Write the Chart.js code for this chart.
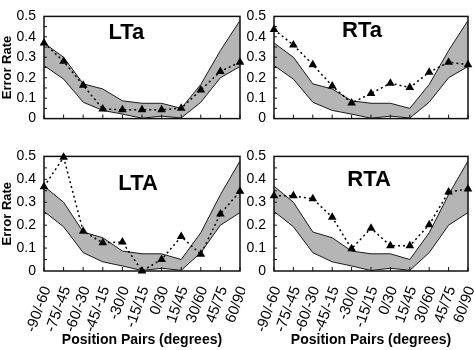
<!DOCTYPE html>
<html lang="en">
<head>
    <meta charset="UTF-8">
    <title>Error Rate by Position Pairs</title>
    <style>
        body {
            margin: 0;
            background-color: white;
        }
        #wrap {
            position: relative;
            width: 474px;
            height: 350px;
        }
        canvas {
            position: absolute;
        }
    </style>
    <script src="https://cdn.jsdelivr.net/npm/chart.js"></script>
</head>
<body>
    <div id="wrap">
        <canvas id="ltaLower" width="245" height="135" style="left:0;top:0"></canvas>
        <canvas id="rtaLower" width="229" height="135" style="left:245px;top:0"></canvas>
        <canvas id="ltaUpper" width="245" height="210" style="left:0;top:140px"></canvas>
        <canvas id="rtaUpper" width="229" height="210" style="left:245px;top:140px"></canvas>
    </div>

    <script>
        const positionPairs = ['-90/-60', '-75/-45', '-60/-30', '-45/-15', '-30/0', '-15/15', '0/30', '15/45', '30/60', '45/75', '60/90'];
        const yTicks = [0, 0.1, 0.2, 0.3, 0.4, 0.5];

        // shaded normal range (same in every panel)
        const bandUpper = [0.37, 0.30, 0.17, 0.145, 0.087, 0.075, 0.075, 0.05, 0.167, 0.333, 0.48];
        const bandLower = [0.26, 0.193, 0.08, 0.04, 0.022, 0.002, 0.012, 0.003, 0.08, 0.2, 0.255];

        const errLTa = [0.37, 0.28, 0.163, 0.047, 0.043, 0.043, 0.043, 0.051, 0.14, 0.231, 0.276];
        const errRTa = [0.436, 0.36, 0.264, 0.16, 0.076, 0.123, 0.173, 0.152, 0.227, 0.276, 0.264];
        const errLTA = [0.368, 0.496, 0.173, 0.123, 0.126, 0.0, 0.05, 0.15, 0.073, 0.249, 0.348];
        const errRTA = [0.328, 0.328, 0.315, 0.235, 0.097, 0.187, 0.11, 0.11, 0.202, 0.345, 0.358];

        const FONT = "'Liberation Sans', Arial, Helvetica, sans-serif";

        // box around the plot, inward tick marks, rotated category labels
        const framePlugin = {
            id: 'frame',
            beforeDatasetsDraw(chart, args, opts) {
                const a = chart.chartArea;
                const ctx = chart.ctx;
                const xs = chart.scales.x;
                const ys = chart.scales.y;
                ctx.save();
                ctx.strokeStyle = '#111';
                ctx.lineWidth = 1.5;
                ctx.strokeRect(a.left, a.top, a.right - a.left, a.bottom - a.top);
                ctx.lineWidth = 1;
                ctx.beginPath();
                positionPairs.forEach((p, i) => {
                    const px = xs.getPixelForValue(i);
                    ctx.moveTo(px, a.bottom);
                    ctx.lineTo(px, a.bottom - 4);
                });
                for (let k = 1; k < 10; k++) {
                    const py = ys.getPixelForValue(k * 0.05);
                    ctx.moveTo(a.left, py);
                    ctx.lineTo(a.left + 3, py);
                }
                ctx.stroke();

                if (opts.labels) {
                    ctx.fillStyle = '#000';
                    ctx.font = '15px ' + FONT;
                    ctx.textAlign = 'right';
                    ctx.textBaseline = 'middle';
                    positionPairs.forEach((p, i) => {
                        ctx.save();
                        ctx.translate(xs.getPixelForValue(i) + 3, a.bottom + 16);
                        ctx.rotate(-70 * Math.PI / 180);
                        ctx.fillText(p, 0, 0);
                        ctx.restore();
                    });
                }
                ctx.restore();
            }
        };

        const panelTitlePlugin = {
            id: 'panelTitle',
            afterDraw(chart, args, opts) {
                const a = chart.chartArea;
                const ctx = chart.ctx;
                ctx.save();
                ctx.font = 'bold 22px ' + FONT;
                ctx.fillStyle = '#000';
                ctx.textAlign = 'center';
                ctx.textBaseline = 'middle';
                ctx.fillText(opts.text, a.left + opts.xFrac * (a.right - a.left), a.top + opts.dy);
                ctx.restore();
            }
        };

        function createChart(id, title, errors, opts) {
            const ctx = document.getElementById(id).getContext('2d');
            new Chart(ctx, {
                type: 'line',
                data: {
                    labels: positionPairs,
                    datasets: [{
                        data: errors,
                        borderColor: '#000',
                        borderWidth: 1.5,
                        borderDash: [2, 3],
                        pointStyle: 'triangle',
                        pointRadius: 5,
                        pointBackgroundColor: '#000',
                        pointBorderColor: '#000',
                        pointBorderWidth: 0,
                        fill: false,
                        tension: 0,
                        clip: false
                    }, {
                        data: bandUpper,
                        borderColor: '#1a1a1a',
                        borderWidth: 1,
                        backgroundColor: '#b5b5b5',
                        pointRadius: 0,
                        fill: '+1',
                        tension: 0
                    }, {
                        data: bandLower,
                        borderColor: '#1a1a1a',
                        borderWidth: 1,
                        pointRadius: 0,
                        fill: false,
                        tension: 0
                    }]
                },
                options: {
                    responsive: false,
                    animation: false,
                    devicePixelRatio: 1,
                    layout: {
                        padding: { top: 5, right: opts.padRight, bottom: 0, left: 0 }
                    },
                    plugins: {
                        legend: { display: false },
                        tooltip: { enabled: false },
                        filler: { drawTime: 'beforeDatasetsDraw' },
                        frame: { labels: opts.showX },
                        panelTitle: { text: title, xFrac: opts.titleX, dy: opts.titleY }
                    },
                    scales: {
                        x: {
                            type: 'category',
                            offset: false,
                            border: { display: false },
                            grid: { display: false, drawTicks: false },
                            ticks: { display: false },
                            title: {
                                display: opts.showX,
                                text: 'Position Pairs (degrees)',
                                color: '#000',
                                font: { family: FONT, size: 14, weight: 'bold' },
                                padding: { top: 0, bottom: 1 }
                            },
                            afterFit: (scale) => { scale.height = opts.xHeight; }
                        },
                        y: {
                            min: 0,
                            max: 0.5,
                            border: { display: false },
                            grid: { display: false, drawTicks: false },
                            afterBuildTicks: (scale) => {
                                scale.ticks = yTicks.map(v => ({ value: v }));
                            },
                            ticks: {
                                padding: 8,
                                color: '#000',
                                font: { family: FONT, size: 14 },
                                callback: (v) => v === 0 ? '0' : v.toFixed(1)
                            },
                            title: {
                                display: opts.showYTitle,
                                text: 'Error Rate',
                                color: '#000',
                                font: { family: FONT, size: 13, weight: 'bold' },
                                padding: 0
                            },
                            afterFit: (scale) => { scale.width = opts.yWidth; }
                        }
                    }
                },
                plugins: [framePlugin, panelTitlePlugin]
            });
        }

        createChart('ltaLower', 'LTa', errLTa, { padRight: 3, yWidth: 44, xHeight: 5, showX: false, showYTitle: true, titleX: 0.42, titleY: 17 });
        createChart('rtaLower', 'RTa', errRTa, { padRight: 6, yWidth: 29, xHeight: 5, showX: false, showYTitle: false, titleX: 0.454, titleY: 15 });
        createChart('ltaUpper', 'LTA', errLTA, { padRight: 3, yWidth: 44, xHeight: 79, showX: true, showYTitle: true, titleX: 0.48, titleY: 28 });
        createChart('rtaUpper', 'RTA', errRTA, { padRight: 6, yWidth: 29, xHeight: 79, showX: true, showYTitle: false, titleX: 0.49, titleY: 24 });
    </script>
</body>
</html>
